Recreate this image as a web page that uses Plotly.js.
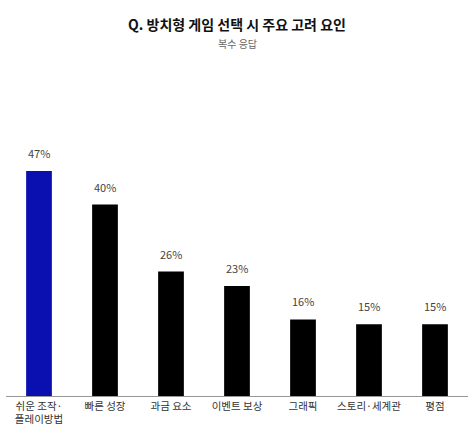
<!DOCTYPE html>
<html>
<head>
<meta charset="utf-8">
<script src="https://cdn.plot.ly/plotly-3.0.1.min.js"></script>
<style>
  html, body { margin: 0; padding: 0; background: #fff; }
  #chart { width: 474px; height: 438px; }
</style>
</head>
<body>
<div id="chart"></div>
<script>
const categories = [
  "쉬운 조작·<br>플레이방법",
  "빠른 성장",
  "과금 요소",
  "이벤트 보상",
  "그래픽",
  "스토리·세계관",
  "평점",
];
const values = [47, 40, 26, 23, 16, 15, 15];
const barColors = ["#0a10b0", "#000000", "#000000", "#000000", "#000000", "#000000", "#000000"];

const fontFamily = '"Noto Sans CJK KR", "Noto Sans", sans-serif';

const data = [
  {
    type: "bar",
    x: categories,
    y: values,
    marker: { color: barColors, line: { width: 0 } },
    hoverinfo: "none",
  },
];

// value labels above each bar
const valueLabels = categories.map((c, i) => ({
  x: c,
  y: values[i],
  xref: "x",
  yref: "y",
  text: values[i] + "%",
  showarrow: false,
  yanchor: "bottom",
  yshift: 8,
  font: { family: fontFamily, size: 11, color: "#444444" },
}));

const layout = {
  width: 474,
  height: 438,
  margin: { l: 6, r: 6, t: 60, b: 42 },
  paper_bgcolor: "#ffffff",
  plot_bgcolor: "#ffffff",
  bargap: 0.61,
  showlegend: false,
  font: { family: fontFamily, color: "#333333" },
  annotations: [
    {
      text: "<b>Q. 방치형 게임 선택 시 주요 고려 요인</b>",
      xref: "paper",
      yref: "paper",
      x: 0.5,
      y: 1.107,
      xanchor: "center",
      yanchor: "middle",
      showarrow: false,
      font: { family: fontFamily, size: 14, color: "#111111" },
    },
    {
      text: "복수 응답",
      xref: "paper",
      yref: "paper",
      x: 0.5,
      y: 1.05,
      xanchor: "center",
      yanchor: "middle",
      showarrow: false,
      font: { family: fontFamily, size: 10, color: "#666666" },
    },
    ...valueLabels,
  ],
  xaxis: {
    showgrid: false,
    zeroline: false,
    showline: true,
    linecolor: "#999999",
    linewidth: 1,
    ticks: "",
    tickfont: { family: fontFamily, size: 10.5, color: "#333333" },
    fixedrange: true,
  },
  yaxis: {
    range: [0, 70.2],
    visible: false,
    showgrid: false,
    zeroline: false,
    fixedrange: true,
  },
};

Plotly.newPlot("chart", data, layout, { displayModeBar: false, staticPlot: true });
</script>
</body>
</html>
